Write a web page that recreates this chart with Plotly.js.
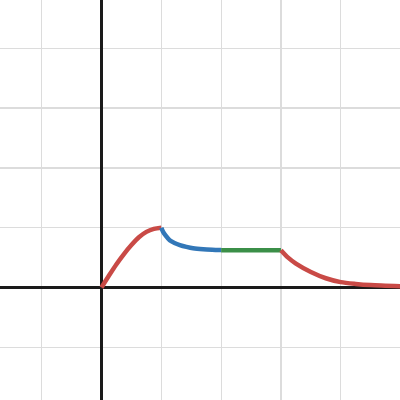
<!DOCTYPE html>
<html>
<head>
<meta charset="utf-8">
<script src="https://cdn.plot.ly/plotly-3.0.1.min.js"></script>
<style>
  html, body { margin: 0; padding: 0; background: #fff; }
  #graph { width: 400px; height: 400px; }
</style>
</head>
<body>
<div id="graph"></div>
<script>
// values, one array pair per piece of the curve
var riseX = [0, 0.125, 0.25, 0.375, 0.5, 0.625, 0.75, 0.875, 1];
var riseY = [0, 0.20, 0.39, 0.56, 0.71, 0.84, 0.93, 0.98, 1];

var decayX = [1, 1.03, 1.07, 1.14, 1.22, 1.31, 1.42, 1.53, 1.7, 1.85, 2];
var decayY = [1, 0.93, 0.87, 0.79, 0.745, 0.71, 0.68, 0.657, 0.64, 0.632, 0.627];

var flatX = [2, 3];
var flatY = [0.625, 0.625];

var tailX = [3, 3.12, 3.25, 3.5, 3.75, 4, 4.25, 4.5, 5];
var tailY = [0.625, 0.50, 0.40, 0.26, 0.155, 0.09, 0.06, 0.04, 0.02];

var red = '#c94a46', blue = '#3277b8', green = '#3b8f48';

function piece(x, y, col) {
  return {
    x: x, y: y, type: 'scatter', mode: 'lines',
    line: {color: col, width: 4.5, shape: 'spline', smoothing: 0.8},
    hoverinfo: 'skip'
  };
}

var data = [
  piece(riseX, riseY, red),
  piece(decayX, decayY, blue),
  piece(flatX, flatY, green),
  piece(tailX, tailY, red)
];

var layout = {
  width: 400, height: 400,
  margin: {l: 0, r: 0, t: 0, b: 0},
  paper_bgcolor: '#fff', plot_bgcolor: '#fff',
  showlegend: false,
  xaxis: {
    range: [-1.697, 4.99], dtick: 1, tick0: 0,
    showgrid: true, gridcolor: '#dcdcdc', gridwidth: 1.3,
    zeroline: true, zerolinecolor: '#1a1a1a', zerolinewidth: 2.6,
    showticklabels: false, ticks: '', showline: false
  },
  yaxis: {
    range: [-1.881, 4.808], dtick: 1, tick0: 0,
    showgrid: true, gridcolor: '#dcdcdc', gridwidth: 1.3,
    zeroline: true, zerolinecolor: '#1a1a1a', zerolinewidth: 2.6,
    showticklabels: false, ticks: '', showline: false
  }
};

Plotly.newPlot('graph', data, layout, {staticPlot: true});
</script>
</body>
</html>
